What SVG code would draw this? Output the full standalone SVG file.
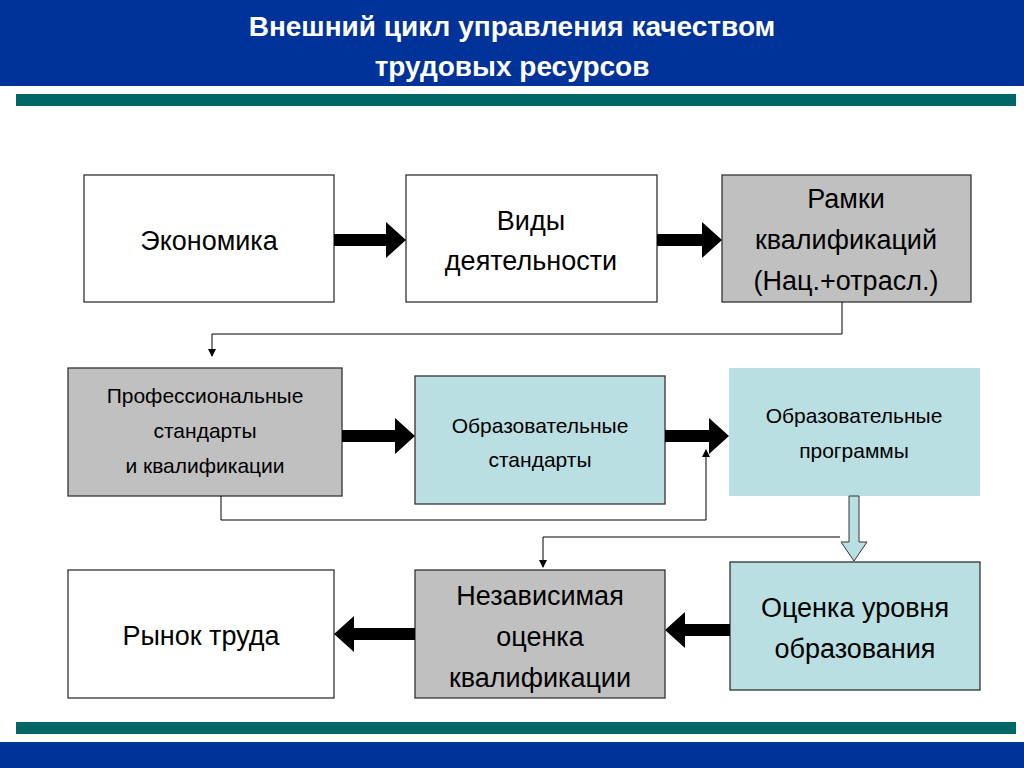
<svg xmlns="http://www.w3.org/2000/svg" width="1024" height="768" viewBox="0 0 1024 768">
<style>
.t{font-family:"Liberation Sans",Arial,sans-serif;text-anchor:middle;fill:#000}
.b{stroke:#333;stroke-width:1.3}
.w{fill:#fff}.g{fill:#c0c0c0}.c{fill:#b9dfe3}
.thin{fill:none;stroke:#000;stroke-width:1}
.thk{fill:#000}
</style>
<defs><marker id="a" markerWidth="8" markerHeight="8" refX="7" refY="4" orient="auto" markerUnits="userSpaceOnUse"><path d="M0,0L8,4L0,8z" fill="#000"/></marker></defs>
<rect x="0" y="0" width="1024" height="86" fill="#003399"/>
<text class="t" x="512" y="36" font-size="28" font-weight="bold" fill="#fff" style="fill:#fff">Внешний цикл управления качеством</text>
<text class="t" x="512" y="76" font-size="28" font-weight="bold" style="fill:#fff">трудовых ресурсов</text>
<rect x="16" y="94" width="1000" height="12" fill="#006666"/>
<rect x="16" y="722" width="1000" height="12" fill="#006666"/>
<rect x="0" y="742" width="1024" height="26" fill="#003399"/>
<g id="n1"><rect class="b w" x="84" y="175" width="250" height="127"/><text class="t" x="209" y="250" font-size="27">Экономика</text></g>
<g id="n2"><rect class="b w" x="406" y="175" width="251" height="127"/><text class="t" x="531" y="230" font-size="27">Виды</text><text class="t" x="531" y="270" font-size="27">деятельности</text></g>
<g id="n3"><rect class="b g" x="722" y="175" width="249" height="127"/><text class="t" x="846" y="208" font-size="27">Рамки</text><text class="t" x="846" y="249" font-size="27">квалификаций</text><text class="t" x="846" y="290" font-size="27">(Нац.+отрасл.)</text></g>
<g id="n4"><rect class="b g" x="68" y="368" width="274" height="128"/><text class="t" x="205" y="403" font-size="21">Профессиональные</text><text class="t" x="205" y="438" font-size="21">стандарты</text><text class="t" x="205" y="473" font-size="21">и квалификации</text></g>
<g id="n5"><rect class="b c" x="415" y="376" width="250" height="128"/><text class="t" x="540" y="433" font-size="21">Образовательные</text><text class="t" x="540" y="467" font-size="21">стандарты</text></g>
<g id="n6"><rect class="c" x="729" y="368" width="251" height="128"/><text class="t" x="854" y="423" font-size="21">Образовательные</text><text class="t" x="854" y="458" font-size="21">программы</text></g>
<g id="n7"><rect class="b c" x="730" y="562" width="250" height="128"/><text class="t" x="855" y="617" font-size="27">Оценка уровня</text><text class="t" x="855" y="658" font-size="27">образования</text></g>
<g id="n8"><rect class="b g" x="415" y="570" width="250" height="128"/><text class="t" x="540" y="605" font-size="27">Независимая</text><text class="t" x="540" y="646" font-size="27">оценка</text><text class="t" x="540" y="687" font-size="27">квалификации</text></g>
<g id="n9"><rect class="b w" x="68" y="570" width="266" height="128"/><text class="t" x="201" y="645" font-size="27">Рынок труда</text></g>
<g id="connectors">
<path class="thk" d="M334,234h52v-12l20,18l-20,18v-12h-52z"/>
<path class="thk" d="M657,234h45v-12l20,18l-20,18v-12h-45z"/>
<path class="thk" d="M342,430h53v-12l20,18l-20,18v-12h-53z"/>
<path class="thk" d="M665,430h44v-12l20,18l-20,18v-12h-44z"/>
<path class="thk" d="M730,624h-45v-12l-20,18l20,18v-12h45z"/>
<path class="thk" d="M415,628h-61v-12l-20,18l20,18v-12h61z"/>
<path class="thin" d="M842,302V334H212V356" marker-end="url(#a)"/>
<path class="thin" d="M221,496V520H706V450" marker-end="url(#a)" stroke="#444"/>
<path class="thin" d="M840,537H543V567" marker-end="url(#a)"/>
<path d="M849,496h10v46h8l-13,19l-13,-19h8z" fill="#b9dfe3" stroke="#333" stroke-width="1"/>
</g>
</svg>
